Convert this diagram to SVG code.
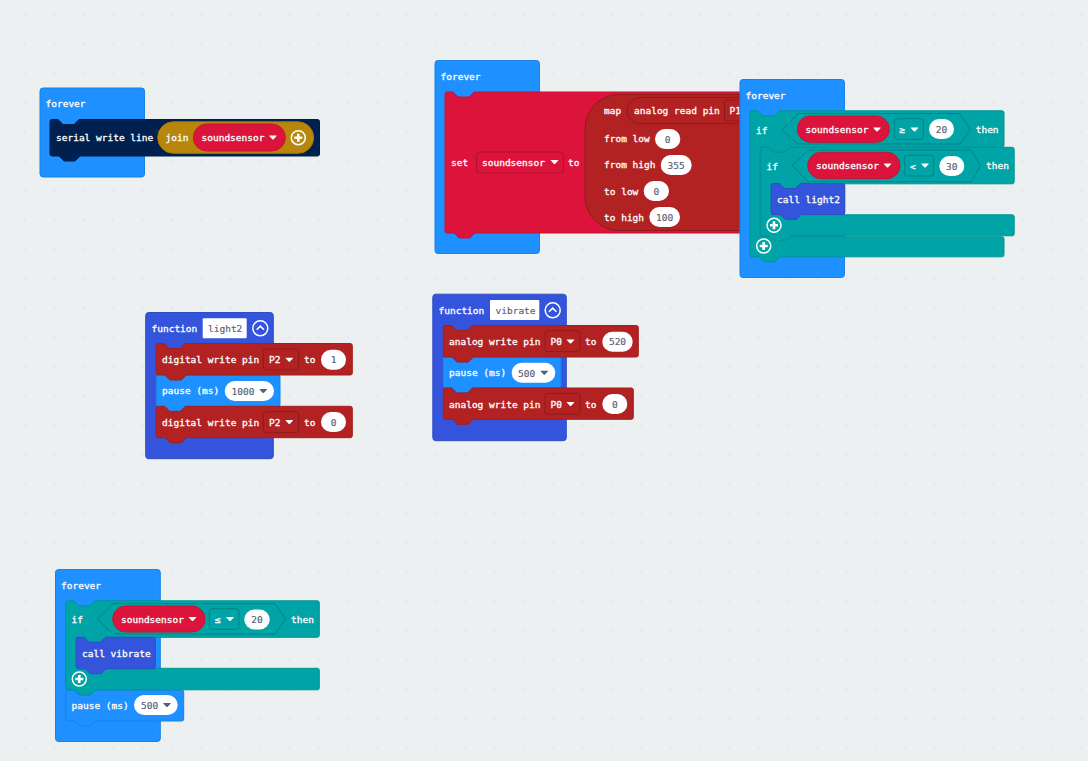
<svg xmlns="http://www.w3.org/2000/svg" width="1088" height="761" viewBox="0 0 1088 761">
<style>
text{font-family:"DejaVu Sans Mono","Liberation Mono",monospace;font-size:9.500px;font-weight:400;fill:#fff;stroke:#fff;stroke-width:.3px}
text.d{fill:#575e75;stroke:#575e75;stroke-width:.15px}
text.m{text-anchor:middle}
.blue{fill:#1e90ff;stroke:#1b81e5}
.fn{fill:#3455db;stroke:#2f4dc5}
.red{fill:#b22222;stroke:#a01f1f}
.cr{fill:#dc143c;stroke:#c61236}
.teal{fill:#00a4a6;stroke:#009395}
.navy{fill:#002050;stroke:#001d48}
.gold{fill:#b8860b;stroke:#a6790a}
.redf{fill:#b22222;stroke:#8e1b1b}
.crf{fill:#dc143c;stroke:#b01030}
.tealf{fill:#00a4a6;stroke:#008385}
.w{fill:#fff;stroke:none}
.ic{fill:none;stroke:#fff;stroke-width:1.5}
</style>
<defs>
<pattern id="grid" x="25" y="14.7" width="29.33" height="29.33" patternUnits="userSpaceOnUse">
<path d="M0 -1.5V1.5M-1.5 0H1.5M29.33 -1.5V1.5M27.83 0H29.33M0 27.83V29.33M29.33 27.83V29.33" stroke="#e1e5e7" fill="none"/>
</pattern>
<path id="dw" d="M-3.5-2h7q.5 0 .2.5l-3 3.3q-.7.6-1.4 0l-3-3.3q-.3-.5.2-.5z" fill="#fff"/>
<path id="dk" d="M-3.5-2h7q.5 0 .2.5l-3 3.3q-.7.6-1.4 0l-3-3.3q-.3-.5.2-.5z" fill="#575e75"/>
<g id="plus"><circle r="7" class="ic"/><path d="M0-4V4M-4 0H4" stroke="#fff" stroke-width="2.6" fill="none"/></g>
<g id="up"><circle r="7.5" class="ic"/><path d="M-3.7 1.5L0-2.2L3.7 1.5" class="ic" stroke-width="2"/></g>
</defs>
<rect width="1088" height="761" fill="#ecf0f1"/>
<rect width="1088" height="761" fill="url(#grid)"/>

<g id="stack-serial">
<rect class="blue" x="40" y="88" width="104.5" height="89" rx="3"/>
<text x="45.5" y="107">forever</text>
<path class="navy" transform="translate(50 119.5)" d="M2 0h6l5 5h11l5-5H267.500q2 0 2 2V34.500q0 2-2 2H30l-5 5h-11l-5-5H2q-2 0-2-2V2q0-2 2-2z"/>
<text x="56" y="141">serial write line</text>
<rect class="gold" x="157.700" y="121.800" width="156" height="31.500" rx="15.700"/>
<text x="165.500" y="141">join</text>
<rect class="cr" x="193.300" y="124" width="92" height="27" rx="13.500"/>
<text x="201.500" y="141">soundsensor</text>
<use href="#dw" x="273" y="137.500"/>
<use href="#plus" x="298.300" y="137.700"/>
</g>

<g id="stack-map">
<rect class="blue" x="435" y="60.500" width="104.500" height="193" rx="3"/>
<text x="440.500" y="80">forever</text>
<path class="cr" transform="translate(445 92)" d="M2 0h6l5 5h11l5-5H333q2 0 2 2V139q0 2-2 2H30l-5 5h-11l-5-5H2q-2 0-2-2V2q0-2 2-2z"/>
<text x="451" y="166">set</text>
<rect class="crf" x="476.500" y="152" width="87" height="21" rx="3"/>
<text x="482" y="166">soundsensor</text>
<use href="#dw" x="554.500" y="162"/>
<text x="568" y="166">to</text>
<rect class="redf" x="585" y="94.500" width="190" height="136" rx="34"/>
<text x="604" y="114">map</text>
<rect class="redf" x="627" y="97.500" width="140" height="26" rx="13"/>
<text x="634" y="114">analog read pin</text>
<rect class="redf" x="724.500" y="100" width="40" height="21" rx="3"/>
<text x="729.500" y="114">P1</text>
<text x="604" y="142">from low</text>
<rect class="w" x="655" y="129" width="25.300" height="20" rx="10"/>
<text class="d m" x="667.600" y="142.500">0</text>
<text x="604" y="168">from high</text>
<rect class="w" x="660.700" y="155" width="31" height="20" rx="10"/>
<text class="d m" x="676.200" y="168.500">355</text>
<text x="604" y="195">to low</text>
<rect class="w" x="643.700" y="181" width="25.300" height="20" rx="10"/>
<text class="d m" x="656.300" y="194.500">0</text>
<text x="604" y="221">to high</text>
<rect class="w" x="649.300" y="207" width="30.700" height="20" rx="10"/>
<text class="d m" x="664.700" y="220.500">100</text>
</g>

<g id="stack-if-light">
<rect class="blue" x="740" y="79.500" width="104.500" height="198" rx="3"/>
<text x="745.500" y="99">forever</text>
<path class="teal" transform="translate(750 110.800)" d="M2 0h6l5 5h11l5-5H252q2 0 2 2V34.500q0 2-2 2H40l-5 5h-11l-5-5H12q-2 0-2 2V124q0 2 2 2H252q2 0 2 2V144q0 2-2 2H30l-5 5h-11l-5-5H2q-2 0-2-2V2q0-2 2-2z"/>
<text x="756" y="134">if</text>
<path class="tealf" d="M781.700 130L798 113.500H960L970 130L960 144H798z"/>
<rect class="cr" x="797.300" y="116" width="92" height="26.300" rx="13.100"/>
<text x="805.500" y="133">soundsensor</text>
<use href="#dw" x="877" y="129.500"/>
<rect class="tealf" x="894.300" y="118.700" width="29" height="20.600" rx="3"/>
<text x="899.500" y="133">≥</text>
<use href="#dw" x="914.500" y="129.500"/>
<rect class="w" x="929" y="119" width="25" height="20" rx="10"/>
<text class="d m" x="941.500" y="132.500">20</text>
<text x="975.700" y="133">then</text>
<path class="teal" transform="translate(760.700 147.300)" d="M2 0h6l5 5h11l5-5H251.500q2 0 2 2V34.500q0 2-2 2H40l-5 5h-11l-5-5H12q-2 0-2 2V65.500q0 2 2 2H251.500q2 0 2 2V86.500q0 2-2 2H30l-5 5h-11l-5-5H2q-2 0-2-2V2q0-2 2-2z"/>
<text x="766.500" y="170">if</text>
<path class="tealf" d="M792 165.700L808 150H971L980.700 165.700L971 181.700H808z"/>
<rect class="cr" x="807.700" y="152.300" width="92.300" height="26.400" rx="13.200"/>
<text x="816" y="169">soundsensor</text>
<use href="#dw" x="887.500" y="165.500"/>
<rect class="tealf" x="904.300" y="155.300" width="29.400" height="20.700" rx="3"/>
<text x="910" y="169.500">&lt;</text>
<use href="#dw" x="925" y="165.500"/>
<rect class="w" x="939.300" y="156" width="25" height="20" rx="10"/>
<text class="d m" x="951.800" y="169.500">30</text>
<text x="986" y="169">then</text>
<g id="call-light2">
<path class="fn" transform="translate(771.300 183.500)" d="M2 0h6l5 5h11l5-5H71.500q2 0 2 2V29q0 2-2 2H30l-5 5h-11l-5-5H2q-2 0-2-2V2q0-2 2-2z"/>
<text x="777" y="203">call light2</text>
</g>
<use href="#plus" x="774" y="225.300"/>
<use href="#plus" x="763.700" y="246"/>
</g>

<g id="fn-light2">
<rect class="fn" x="145.700" y="312.500" width="127.600" height="146.200" rx="3"/>
<text x="151.500" y="332">function</text>
<rect class="w" x="202.700" y="318.300" width="44" height="20" rx="1"/>
<text class="d" x="208" y="332">light2</text>
<use href="#up" x="260.300" y="328.300"/>
<path class="blue" transform="translate(156.300 375)" d="M2 0h6l5 5h11l5-5H121.700q2 0 2 2V29.500q0 2-2 2H30l-5 5h-11l-5-5H2q-2 0-2-2V2q0-2 2-2z"/>
<text x="162" y="394">pause (ms)</text>
<rect class="w" x="224.700" y="381" width="49.300" height="20" rx="10"/>
<text class="d" x="231.500" y="394.500">1000</text>
<use href="#dk" x="263.300" y="391"/>
<path class="red" transform="translate(156.300 343.500)" d="M2 0h6l5 5h11l5-5H194q2 0 2 2V29.500q0 2-2 2H30l-5 5h-11l-5-5H2q-2 0-2-2V2q0-2 2-2z"/>
<text x="162" y="363">digital write pin</text>
<rect class="redf" x="263.300" y="349" width="35.400" height="21" rx="3"/>
<text x="269" y="363">P2</text>
<use href="#dw" x="289.300" y="359.700"/>
<text x="304" y="363">to</text>
<rect class="w" x="321" y="349.700" width="25" height="20" rx="10"/>
<text class="d m" x="333.500" y="363">1</text>
<path class="red" transform="translate(156.300 406.300)" d="M2 0h6l5 5h11l5-5H194q2 0 2 2V29.400q0 2-2 2H30l-5 5h-11l-5-5H2q-2 0-2-2V2q0-2 2-2z"/>
<text x="162" y="425.500">digital write pin</text>
<rect class="redf" x="263.300" y="411.700" width="35.400" height="21" rx="3"/>
<text x="269" y="425.500">P2</text>
<use href="#dw" x="289.300" y="422"/>
<text x="304" y="425.500">to</text>
<rect class="w" x="321" y="412" width="25" height="20" rx="10"/>
<text class="d m" x="333.500" y="425.500">0</text>
</g>

<g id="fn-vibrate">
<rect class="fn" x="432.800" y="294.200" width="133.500" height="146.500" rx="3"/>
<text x="438.500" y="314">function</text>
<rect class="w" x="490" y="300" width="49.300" height="20" rx="1"/>
<text class="d" x="495.500" y="314">vibrate</text>
<use href="#up" x="552.700" y="310.300"/>
<path class="blue" transform="translate(443.300 357)" d="M2 0h6l5 5h11l5-5H115.700q2 0 2 2V28.700q0 2-2 2H30l-5 5h-11l-5-5H2q-2 0-2-2V2q0-2 2-2z"/>
<text x="449" y="376">pause (ms)</text>
<rect class="w" x="511.700" y="362.700" width="43.600" height="20" rx="10"/>
<text class="d" x="518" y="376.500">500</text>
<use href="#dk" x="544.300" y="372.700"/>
<path class="red" transform="translate(443.300 325.500)" d="M2 0h6l5 5h11l5-5H193q2 0 2 2V29.500q0 2-2 2H30l-5 5h-11l-5-5H2q-2 0-2-2V2q0-2 2-2z"/>
<text x="449" y="345">analog write pin</text>
<rect class="redf" x="545" y="330.700" width="35" height="21" rx="3"/>
<text x="550.500" y="345">P0</text>
<use href="#dw" x="570.500" y="341.500"/>
<text x="585" y="345">to</text>
<rect class="w" x="602.300" y="331.700" width="30.400" height="20" rx="10"/>
<text class="d m" x="617.500" y="345">520</text>
<path class="red" transform="translate(443.300 388)" d="M2 0h6l5 5h11l5-5H188q2 0 2 2V29.300q0 2-2 2H30l-5 5h-11l-5-5H2q-2 0-2-2V2q0-2 2-2z"/>
<text x="449" y="407.500">analog write pin</text>
<rect class="redf" x="545" y="393.300" width="35" height="21" rx="3"/>
<text x="550.500" y="407.500">P0</text>
<use href="#dw" x="570.500" y="404"/>
<text x="585" y="407.500">to</text>
<rect class="w" x="602.300" y="394" width="25" height="20" rx="10"/>
<text class="d m" x="614.800" y="407.500">0</text>
</g>

<g id="stack-if-vibrate">
<rect class="blue" x="55.500" y="569.500" width="104.800" height="172" rx="3"/>
<text x="61" y="589">forever</text>
<path class="blue" transform="translate(65.700 690)" d="M2 0h6l5 5h11l5-5H116q2 0 2 2V29q0 2-2 2H30l-5 5h-11l-5-5H2q-2 0-2-2V2q0-2 2-2z"/>
<text x="71.500" y="709">pause (ms)</text>
<rect class="w" x="134" y="695" width="43.700" height="20" rx="10"/>
<text class="d" x="141" y="709">500</text>
<use href="#dk" x="167" y="705"/>
<path class="teal" transform="translate(65.700 600.800)" d="M2 0h6l5 5h11l5-5H251.600q2 0 2 2V34.500q0 2-2 2H40l-5 5h-11l-5-5H12q-2 0-2 2V65.500q0 2 2 2H251.600q2 0 2 2V87q0 2-2 2H30l-5 5h-11l-5-5H2q-2 0-2-2V2q0-2 2-2z"/>
<text x="71.500" y="623">if</text>
<path class="tealf" d="M97.300 619L113 603.700H275L285.700 619L275 634H113z"/>
<rect class="cr" x="112.700" y="606" width="92.300" height="26" rx="13"/>
<text x="121" y="623">soundsensor</text>
<use href="#dw" x="192.500" y="619"/>
<rect class="tealf" x="209.300" y="608.700" width="29.700" height="20.600" rx="3"/>
<text x="215" y="623">≤</text>
<use href="#dw" x="230" y="619"/>
<rect class="w" x="244.300" y="609.500" width="25.400" height="20" rx="10"/>
<text class="d m" x="257" y="623">20</text>
<text x="291" y="623">then</text>
<g id="call-vibrate">
<path class="fn" transform="translate(76.300 637.300)" d="M2 0h6l5 5h11l5-5H77q2 0 2 2V29.500q0 2-2 2H30l-5 5h-11l-5-5H2q-2 0-2-2V2q0-2 2-2z"/>
<text x="82" y="656.500">call vibrate</text>
</g>
<use href="#plus" x="79.300" y="679"/>
</g>
</svg>
